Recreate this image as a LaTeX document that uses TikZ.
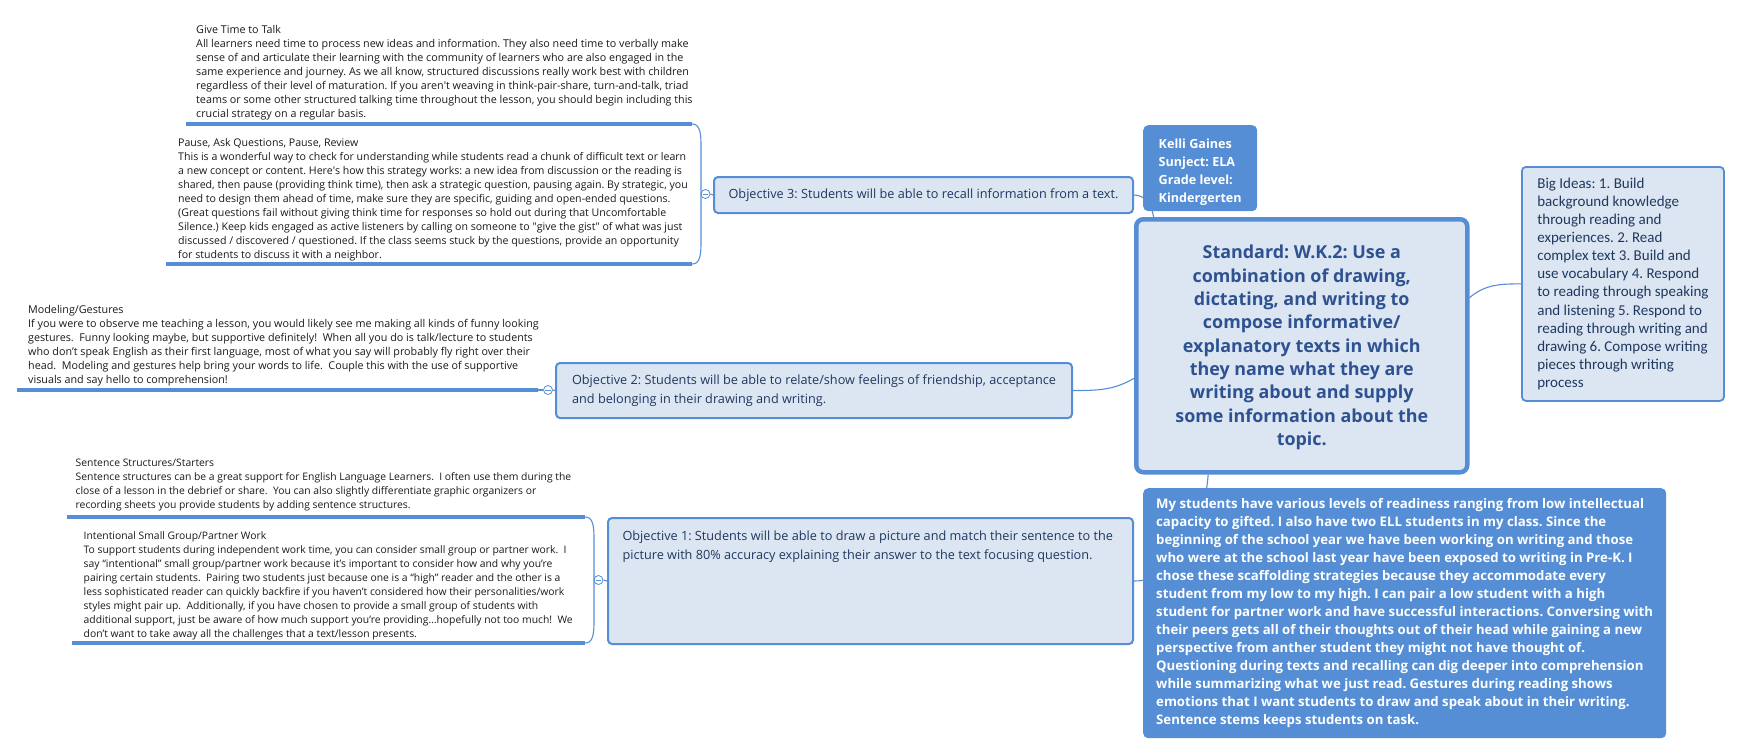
\documentclass[tikz,border=0pt]{standalone}
\usepackage{fontspec}
\setmainfont{Open Sans}
\newfontfamily\calibfont{Carlito}
\usepackage{xcolor}
\usetikzlibrary{calc}

\definecolor{mapblue}{RGB}{85,142,213}
\definecolor{mapfill}{RGB}{220,230,242}
\definecolor{objink}{RGB}{31,56,96}
\definecolor{stdink}{RGB}{46,82,145}
\definecolor{noteink}{RGB}{25,25,25}
\newcommand{\twosp}{\ \ }
\frenchspacing

\begin{document}
\begin{tikzpicture}[
  x=1pt, y=-1pt,
  % note texts hanging off the objectives
  note/.style={anchor=north west, inner sep=0pt, align=left, text=noteink,
               font=\fontsize{10.75}{14}\selectfont},
  small note/.style={note, font=\fontsize{10.35}{14}\selectfont},
  uline/.style={mapblue, line width=3.1pt},
  link/.style={mapblue, line width=1.1pt},
  knob/.style={circle, draw=mapblue, fill=white, line width=0.8pt,
               minimum size=9pt, inner sep=0pt,
               path picture={\draw[mapblue, line width=0.7pt]
                 ([xshift=-2.6pt]path picture bounding box.center) --
                 ([xshift=2.6pt]path picture bounding box.center);}},
  obj/.style={anchor=north west, rectangle, rounded corners=4pt, draw=mapblue,
              line width=2pt, fill=mapfill, text=objink, align=left,
              inner sep=0pt, font=\fontsize{12.7}{19}\selectfont},
  dark/.style={anchor=north west, rectangle, rounded corners=5pt, fill=mapblue,
               text=white, align=left, inner sep=0pt},
]
\useasboundingbox (0,0) rectangle (1740,755);

%% ── Objectives ────────────────────────────────────────────────────
\node[obj, minimum width=419pt, minimum height=36pt] (o3) at (713,176)
  {Objective 3: Students will be able to recall information from a text.};
\node[obj, minimum width=516pt, minimum height=55pt] (o2) at (555,362)
  {Objective 2: Students will be able to relate/show feelings of friendship, acceptance\\
   and belonging in their drawing and writing.};
\node[obj, minimum width=525pt, minimum height=126pt] (o1) at (607,517) {};
\node[obj, draw=none, fill=none] (o1t) at ($(o1.north west)+(14.5,13)$)
  {Objective 1: Students will be able to draw a picture and match their sentence to the\\
   picture with 80\% accuracy explaining their answer to the text focusing question.};

%% ── Standard + big ideas ──────────────────────────────────────────
\node[obj, line width=4.5pt, rounded corners=7pt, align=center, text=stdink,
      font=\bfseries\fontsize{17.9}{23.3}\selectfont,
      minimum width=331pt, minimum height=253pt] (std) at (1134,217)
  {\rule{0pt}{17pt}Standard: W.K.2: Use a\\combination of drawing,\\dictating, and writing to\\
   compose informative/\\explanatory texts in which\\they name what they are\\
   writing about and supply\\some information about the\\topic.};
\node[obj, line width=1.8pt, font=\calibfont\fontsize{15}{18.1}\selectfont,
      minimum width=202pt, minimum height=234pt] (big) at (1521,166)
  {Big Ideas: 1. Build\\background knowledge\\through reading and\\
   experiences. 2. Read\\complex text 3. Build and\\use vocabulary 4. Respond\\
   to reading through speaking\\and listening 5. Respond to\\
   reading through writing and\\drawing 6. Compose writing\\
   pieces through writing\\process};

%% ── Branches from the standard ────────────────────────────────────
\draw[link] (std.16)  to[out=40, in=180]  (big.west);
\draw[link] (std.191) to[out=210, in=0]   (o2.east);
\draw[link] (std.139) to[out=100, in=0]   (o3.east);
\draw[link] (std.234) to[out=265, in=0]   (o1.east);

%% ── Teacher + rationale (on top of the branches) ─────────────────
\node[dark, font=\bfseries\fontsize{12.6}{18}\selectfont,
      minimum width=114pt, minimum height=86pt] (who) at (1143,125)
  {\rule{0pt}{17pt}Kelli Gaines\\Sunject: ELA\\Grade level:\\Kindergerten};
\node[dark, font=\bfseries\fontsize{13.2}{18}\selectfont,
      minimum width=523pt, minimum height=250pt] (why) at (1143,488)
  {My students have various levels of readiness ranging from low intellectual\\
   capacity to gifted. I also have two ELL students in my class. Since the\\
   beginning of the school year we have been working on writing and those\\
   who were at the school last year have been exposed to writing in Pre-K. I\\
   chose these scaffolding strategies because they accommodate every\\
   student from my low to my high. I can pair a low student with a high\\
   student for partner work and have successful interactions. Conversing with\\
   their peers gets all of their thoughts out of their head while gaining a new\\
   perspective from anther student they might not have thought of.\\
   Questioning during texts and recalling can dig deeper into comprehension\\
   while summarizing what we just read. Gestures during reading shows\\
   emotions that I want students to draw and speak about in their writing.\\
   Sentence stems keeps students on task.};

%% ── Strategy notes ────────────────────────────────────────────────
\node[note] (talk) at (196,25)
  {Give Time to Talk\\
   All learners need time to process new ideas and information. They also need time to verbally make\\
   sense of and articulate their learning with the community of learners who are also engaged in the\\
   same experience and journey. As we all know, structured discussions really work best with children\\
   regardless of their level of maturation. If you aren\textquotesingle t weaving in think-pair-share, turn-and-talk, triad\\
   teams or some other structured talking time throughout the lesson, you should begin including this\\
   crucial strategy on a regular basis.};
\node[note, font=\fontsize{10.6}{14}\selectfont] (pause) at (178,138)
  {Pause, Ask Questions, Pause, Review\\
   This is a wonderful way to check for understanding while students read a chunk of difficult text or learn\\
   a new concept or content. Here\textquotesingle s how this strategy works: a new idea from discussion or the reading is\\
   shared, then pause (providing think time), then ask a strategic question, pausing again. By strategic, you\\
   need to design them ahead of time, make sure they are specific, guiding and open-ended questions.\\
   (Great questions fail without giving think time for responses so hold out during that Uncomfortable\\
   Silence.) Keep kids engaged as active listeners by calling on someone to \textquotedbl give the gist\textquotedbl{} of what was just\\
   discussed / discovered / questioned. If the class seems stuck by the questions, provide an opportunity\\
   for students to discuss it with a neighbor.};
\node[note] (model) at (28,305)
  {Modeling/Gestures\\
   If you were to observe me teaching a lesson, you would likely see me making all kinds of funny looking\\
   gestures.\twosp Funny looking maybe, but supportive definitely!\twosp When all you do is talk/lecture to students\\
   who don’t speak English as their first language, most of what you say will probably fly right over their\\
   head.\twosp Modeling and gestures help bring your words to life.\twosp Couple this with the use of supportive\\
   visuals and say hello to comprehension!};
\node[small note] (frames) at (75.5,459)
  {Sentence Structures/Starters\\
   Sentence structures can be a great support for English Language Learners.\twosp I often use them during the\\
   close of a lesson in the debrief or share.\twosp You can also slightly differentiate graphic organizers or\\
   recording sheets you provide students by adding sentence structures.};
\node[small note] (pairs) at (83.5,531)
  {Intentional Small Group/Partner Work\\
   To support students during independent work time, you can consider small group or partner work.\twosp I\\
   say “intentional” small group/partner work because it’s important to consider how and why you’re\\
   pairing certain students.\twosp Pairing two students just because one is a “high” reader and the other is a\\
   less sophisticated reader can quickly backfire if you haven’t considered how their personalities/work\\
   styles might pair up.\twosp Additionally, if you have chosen to provide a small group of students with\\
   additional support, just be aware of how much support you’re providing…hopefully not too much!\twosp We\\
   don’t want to take away all the challenges that a text/lesson presents.};

%% ── Underlines ────────────────────────────────────────────────────
\coordinate (gt-l) at (186,124);  \coordinate (gt-r) at (692,124);
\coordinate (pq-l) at (166,264);  \coordinate (pq-r) at (692,264);
\coordinate (mg-l) at (17,390);   \coordinate (mg-r) at (538,390);
\coordinate (ss-l) at (67,517);   \coordinate (ss-r) at (585,517);
\coordinate (ig-l) at (72,643);   \coordinate (ig-r) at (585,643);
\foreach \a/\b in {gt-l/gt-r, pq-l/pq-r, mg-l/mg-r, ss-l/ss-r, ig-l/ig-r}
  \draw[uline] (\a) -- (\b);

%% ── Braces and knobs ──────────────────────────────────────────────
\node[knob] (k3) at (705.5,194) {};
\node[knob] (k2) at (548,390) {};
\node[knob] (k1) at (598.5,580) {};

\draw[link] (gt-r) .. controls ($(gt-r)+(7,0)$) and ($(gt-r)+(9,7)$) .. ($(gt-r)+(9,20)$)
  -- ($(pq-r)+(9,-20)$) .. controls ($(pq-r)+(9,-7)$) and ($(pq-r)+(7,0)$) .. (pq-r);
\draw[link] (ss-r) .. controls ($(ss-r)+(7,0)$) and ($(ss-r)+(9,7)$) .. ($(ss-r)+(9,20)$)
  -- ($(ig-r)+(9,-20)$) .. controls ($(ig-r)+(9,-7)$) and ($(ig-r)+(7,0)$) .. (ig-r);
\draw[link] (k3.east) -- (o3.west);
\draw[link] (mg-r) -- (k2.west);
\draw[link] (k2.east) -- (o2.west);
\draw[link] (k1.east) -- (o1.west);

\end{tikzpicture}
\end{document}
